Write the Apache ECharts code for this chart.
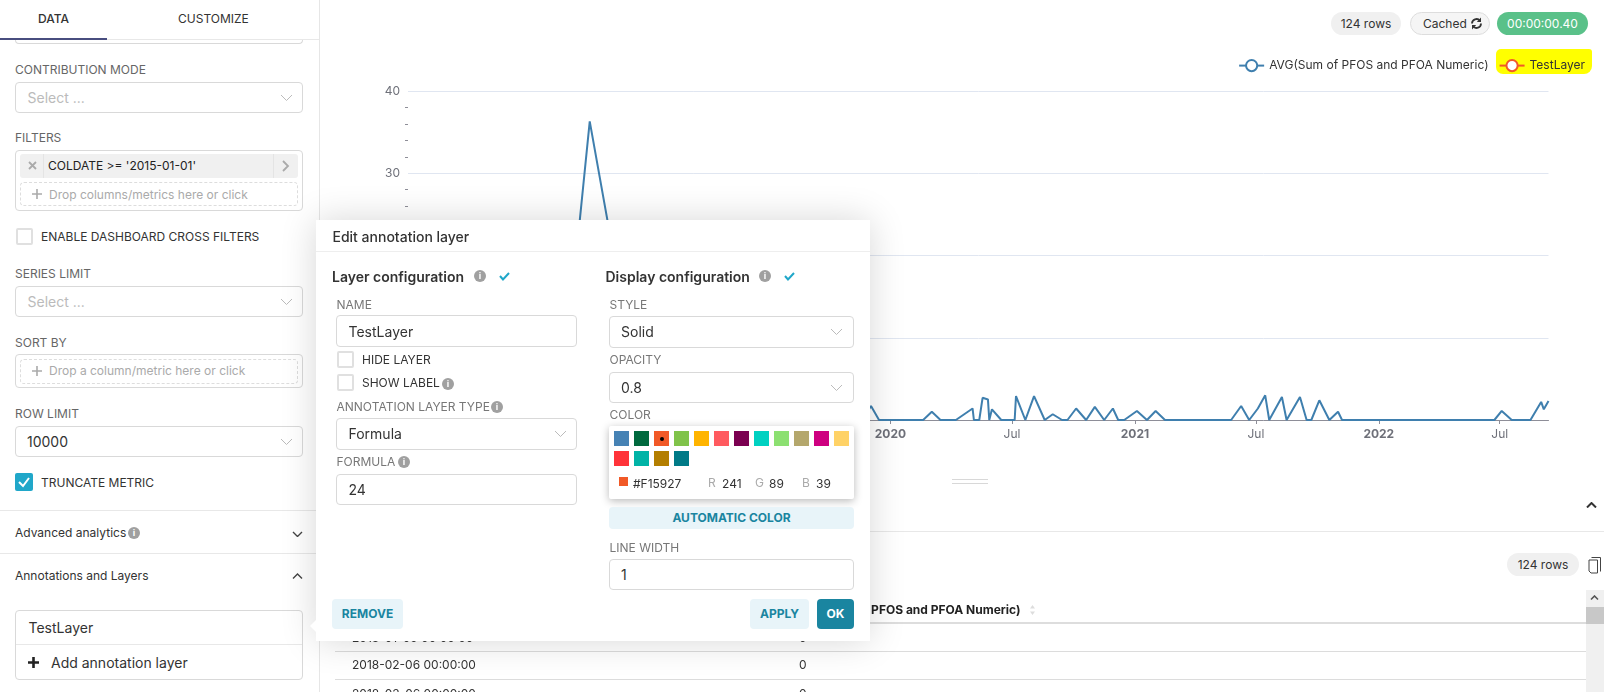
<!DOCTYPE html>
<html><head><meta charset="utf-8">
<script src="https://cdn.jsdelivr.net/npm/echarts@6/dist/echarts.min.js"></script>
<style>
html,body{margin:0;padding:0;width:1604px;height:692px;overflow:hidden;background:#fff;font-family:Inter,"Noto Sans",sans-serif;}
#hl{position:absolute;left:1496px;top:49px;width:96px;height:25px;background:#ffff00;border-radius:5px 3px 8px 7px;z-index:0;}
#chart{position:absolute;left:0;top:0;width:1604px;height:692px;z-index:1;}
#ui{position:absolute;left:0;top:0;width:1604px;height:692px;z-index:2;overflow:hidden;pointer-events:none;}
#ui div,#ui svg{position:absolute;box-sizing:border-box;}
.t{white-space:nowrap;line-height:16px;height:16px;font-size:12px;color:#333;}
.lab{color:#666;}
.ph{font-size:14px;color:#bbb;}
.val{font-size:14px;color:#333;}
.inp{background:#fff;border:1px solid #d9d9d9;border-radius:4px;}
.dash{border:1px dashed #ddd;border-radius:4px;}
.cb{background:#fff;border:2px solid #e0e0e0;border-radius:2px;}
.info{width:12px;height:12px;border-radius:50%;background:#a0a0a0;color:#fff;font-size:9px;font-weight:700;line-height:12px;text-align:center;}
.btn{border-radius:4px;text-align:center;font-size:12px;font-weight:700;background:#e8f4f9;color:#1a85a0;}
.pill{border-radius:12px;text-align:center;font-size:12px;color:#333;background:#f0f0f0;line-height:23px;}
</style></head><body>
<div id="hl"></div><div id="chart"></div><div id="ui"></div>
<script>
const seriesNames = ['AVG(Sum of PFOS and PFOA Numeric)', 'TestLayer'];
const pointDates = ['2018-01-09','2018-02-06','2018-03-06','2018-08-24','2018-10-08','2018-12-27','2019-11-20','2019-12-03','2019-12-15',
'2020-02-19','2020-03-03','2020-03-16','2020-04-08','2020-05-03','2020-05-05','2020-05-13','2020-05-18','2020-05-26','2020-05-28','2020-06-01','2020-06-15','2020-07-05','2020-07-07','2020-07-21','2020-08-03','2020-08-19','2020-08-31','2020-09-14','2020-09-22','2020-10-05','2020-10-20','2020-11-02','2020-11-16','2020-11-29','2020-12-07','2020-12-16',
'2021-01-04','2021-01-19','2021-02-01','2021-02-15','2021-05-25','2021-06-09','2021-06-21','2021-07-04','2021-07-15','2021-07-21','2021-08-09','2021-08-16','2021-09-05','2021-09-15','2021-09-22','2021-10-04','2021-10-19','2021-11-01','2021-11-07',
'2022-06-23','2022-07-04','2022-07-19','2022-08-16','2022-09-01','2022-09-05','2022-09-12'];
const pointValues = [0,0,0,0,36.3,0,0,1.7,0,
0,1,0,0,1.4,0,0,2.7,2.5,0,1.3,0,0,2.9,0,2.9,0,0.7,0,0,1.4,0,1.6,0,1.4,0,0,
1.1,0,1.1,0,0,1.7,0,1.4,3,0,2.8,0,2.8,0,0,2.4,0,1,0,
0,1.1,0,0,2.2,1.3,2.3];
const tickDates = ['2018-07-01','2019-01-01','2019-07-01','2020-01-01','2020-07-01','2021-01-01','2021-07-01','2022-01-01','2022-07-01'];
const tickLabels = ['Jul','2019','Jul','2020','Jul','2021','Jul','2022','Jul'];
const axisStart = '2018-01-09', axisEnd = '2022-09-12';
const swatches = ['#4682B4','#00693E','#F15927','#80C34A','#FFB400','#FF5A5F','#7B0051','#00D1C1','#8CE071','#B4A76C','#CE0080','#FFD266','#FF3339','#00B3A6','#B37E00','#007A87'];

const ts = d => Date.parse(d + 'T00:00:00Z');
const chart = echarts.init(document.getElementById('chart'), null, {renderer:'canvas'});
const tickTimes = tickDates.map(ts);
chart.setOption({
  animation:false,
  backgroundColor:'transparent',
  textStyle:{fontFamily:'Inter'},
  legend:{show:true,right:14,top:54,itemGap:10,itemWidth:25,itemHeight:14,textStyle:{fontFamily:'Inter',fontSize:12,color:'#333'},data:seriesNames},
  grid:{left:408,right:55.5,top:91,bottom:272},
  xAxis:{type:'value',min:ts(axisStart),max:ts(axisEnd),
    splitLine:{show:false},
    axisLine:{lineStyle:{color:'#8e8e98',width:1}},
    axisTick:{show:true,length:4,lineStyle:{color:'#8e8e98'},customValues:tickTimes},
    axisLabel:{margin:8,fontSize:12,color:'#6e7079',fontFamily:'Inter',customValues:tickTimes,
      formatter:v=>{const s=tickLabels[tickTimes.indexOf(+v)]||''; return s==='Jul'?s:'{b|'+s+'}';},
      rich:{b:{fontWeight:'bold',fontSize:12,color:'#6e7079',fontFamily:'Inter'}}}},
  yAxis:{type:'value',min:0,max:40,interval:10,
    axisLine:{show:false},axisTick:{show:false},
    minorTick:{show:true,splitNumber:5,length:3,lineStyle:{color:'#8e8e98'}},
    splitLine:{lineStyle:{color:'#e0e6f1'}},
    axisLabel:{margin:8,fontSize:12,color:'#6e7079',fontFamily:'Inter'}},
  series:[
    {name:seriesNames[0],type:'line',symbol:'emptyCircle',symbolSize:8,showSymbol:false,
     itemStyle:{color:'#3f7fae'},lineStyle:{width:2,color:'#3f7fae'},
     data:pointDates.map((d,i)=>[ts(d),pointValues[i]])},
    {name:seriesNames[1],type:'line',symbol:'emptyCircle',symbolSize:8,showSymbol:false,
     itemStyle:{color:'#F15927'},lineStyle:{width:1,color:'#F15927'},data:[]}
  ]
});

const ui = document.getElementById('ui');
function B(x,y,w,h,cls,css){const d=document.createElement('div');d.className=cls||'';d.style.cssText=`left:${x}px;top:${y}px;width:${w}px;height:${h}px;`+(css||'');ui.appendChild(d);return d;}
function T(x,cy,s,cls,css){const d=document.createElement('div');d.className='t '+(cls||'');d.textContent=s;d.style.cssText=`left:${x}px;top:${cy-8}px;`+(css||'');ui.appendChild(d);return d;}
function S(x,y,w,h,inner){const n='http://www.w3.org/2000/svg';const s=document.createElementNS(n,'svg');s.setAttribute('width',w);s.setAttribute('height',h);s.style.cssText=`left:${x}px;top:${y}px;`;s.innerHTML=inner;ui.appendChild(s);}
function Chev(cx,cy,w,up,col,sw){const h=w/2;const p=up?`1,${h+1} ${w/2+1},1 ${w+1},${h+1}`:`1,1 ${w/2+1},${h+1} ${w+1},1`;S(cx-w/2-1,cy-h/2-1,w+2,h+2,`<polyline points="${p}" fill="none" stroke="${col||'#bbb'}" stroke-width="${sw||1}"/>`);}
function I(cx,cy){const d=B(cx-6,cy-6,12,12,'info');d.textContent='i';}
function Select(y,txt,isPh,xl,w,tx,chevX){B(xl,y,w,31.5,'inp');T(tx,y+16,txt,isPh?'ph':'val');if(chevX)Chev(chevX,y+16,11);}
function Check(cx,cy){S(cx-5,cy-5,11,10,'<polyline points="1,5 4,8.5 10,2" fill="none" stroke="#20a7c9" stroke-width="2"/>');}

// top-right pills
const p1=B(1331,12,70,23,'pill');p1.textContent='124 rows';
const p2=B(1410,12,80,23,'pill','background:#f5f5f5;border:1px solid #ddd;line-height:21px;text-align:left;padding-left:12px;');p2.textContent='Cached';
S(1470,17,13,13,'<path d="M2 6.5a4.5 4.5 0 0 1 8-2.8M11 6.5a4.5 4.5 0 0 1-8 2.8" fill="none" stroke="#333" stroke-width="1.8"/><path d="M11 0.5v4.5h-4.2zM2 12.5V8h4.2z" fill="#333"/>');
const p3=B(1497,12,91,23,'pill','background:#5ac189;color:#fff;');p3.textContent='00:00:00.40';

// resize handle & collapse
B(952,479,36,1,'','background:#d8d8d8');B(952,483,36,1,'','background:#d8d8d8');
Chev(1591,505,9,true,'#333',2);
B(320,531,1284,1,'','background:#e8e8e8');
const p4=B(1507,553,72,23,'pill');p4.textContent='124 rows';
S(1588,556,14,18,'<path d="M3.5 1.5h9v14M1 4h8.5v13H3L1 15z" fill="#fff" stroke="#444" stroke-width="1"/>');

// table
T(352,610,'COLDATE','', 'font-weight:700');
T(797,610,seriesNames[0],'','font-weight:700;color:#222');
S(1029,604,7,12,'<path d="M3.5 1L6 4.5H1zM3.5 11L6 7.5H1z" fill="#ddd"/>');
B(335,622,1251,2,'','background:#ddd');
B(335,651,1251,1,'','background:#dcdcdc');
B(335,679,1251,1,'','background:#dcdcdc');
T(352,637.5,'2018-01-09 00:00:00');T(799,637.5,'0');
T(352,665,'2018-02-06 00:00:00');T(799,665,'0');
T(352,694,'2018-03-06 00:00:00');T(799,694,'0');
B(1586,590,18,102,'','background:#f0f0f0');
Chev(1594.5,598,7,true,'#555',1.6);
B(1586,607,18,17,'','background:#c8c8c8');

// left panel
B(0,0,319.5,692,'','background:#fff;border-right:1px solid #e6e6e6');
B(15,20,288,23.5,'inp','border-top:none;');
B(0,0,319,39,'','background:#fff');
T(38,18.5,'DATA','','font-weight:500;color:#333');
T(178,18.5,'CUSTOMIZE','','font-weight:400;color:#333');
B(0,39,319,1,'','background:#e8e8e8');B(0,38,107,2,'','background:#484d7f');
T(15,69.5,'CONTRIBUTION MODE','lab');
Select(81.5,'Select ...',true,15,288,27.5,286);
T(15,138,'FILTERS','lab');
B(15,149.5,288,61.5,'inp');
B(20,154,278,23.5,'','background:#f0f0f0;border-radius:3px');
B(43,154,1,23.5,'','background:#e4e4e4');B(273,154,1,23.5,'','background:#e4e4e4');
S(27.5,161,9,9,'<path d="M1 1L8 8M8 1L1 8" stroke="#aaa" stroke-width="1.8"/>');
T(48,166,"COLDATE >= '2015-01-01'",'','color:#222');
S(282,160,8,12,'<polyline points="1,1 6,6 1,11" fill="none" stroke="#aaa" stroke-width="1.8"/>');
B(20,182,278,24,'dash');
S(32,189,10,10,'<path d="M5 0V10M0 5H10" stroke="#aaa" stroke-width="1.6"/>');
T(49,195,'Drop columns/metrics here or click','','color:#aaa');
B(15.5,227.5,17,17,'cb');
T(41,237,'ENABLE DASHBOARD CROSS FILTERS');
T(15,274,'SERIES LIMIT','lab');
Select(285.5,'Select ...',true,15,288,27.5,286);
T(15,343,'SORT BY','lab');
B(15,354,288,33.5,'inp');
B(20,359,278,25,'dash');
S(32,366,10,10,'<path d="M5 0V10M0 5H10" stroke="#aaa" stroke-width="1.6"/>');
T(49,371,'Drop a column/metric here or click','','color:#aaa');
T(15,414,'ROW LIMIT','lab');
Select(425.5,'10000',false,15,288,27,286);
B(15,473,18,18,'','background:#20a7c9;border-radius:2px');
S(17,476,14,12,'<polyline points="2,6 6,10 12,2" fill="none" stroke="#fff" stroke-width="2"/>');
T(41,483,'TRUNCATE METRIC');
B(0,510,319,1,'','background:#e8e8e8');
T(15,533,'Advanced analytics');I(134,533);
Chev(297,534,9,false,'#444',1.4);
B(0,553,319,1,'','background:#e8e8e8');
T(15,576,'Annotations and Layers');
Chev(297,576,9,true,'#444',1.4);
B(15,609.5,288,70,'inp');
T(28.5,628,'TestLayer','val');
B(16,644,286,1,'','background:#e8e8e8');
S(28,657,11,11,'<path d="M5.5 0V11M0 5.5H11" stroke="#222" stroke-width="2.6"/>');
T(51,663,'Add annotation layer','val');

// modal
B(316,220,554,421,'','background:#fff;box-shadow:0 0 34px rgba(0,0,0,.16);');
S(309,619,8,14,'<path d="M8 0L1 7L8 14z" fill="#fff"/>');
T(332.5,237,'Edit annotation layer','','font-size:14px;font-weight:500;color:#333');
B(316,251,554,1,'','background:#eee');
T(332,277,'Layer configuration','','font-size:14px;font-weight:600;color:#333');I(480,276);Check(503.5,276);
T(336.5,304.5,'NAME','lab','color:#777');
B(336,315,241,31.5,'inp');T(348.5,332,'TestLayer','val');
B(336.5,351,17,17,'cb');T(362,360,'HIDE LAYER');
B(336.5,374,17,17,'cb');T(362,383,'SHOW LABEL');I(448,384);
T(336.5,407,'ANNOTATION LAYER TYPE','lab','color:#777');I(497,407);
Select(418,'Formula',false,336,241,348.5,560);
T(336.5,462,'FORMULA','lab','color:#777');I(404,462);
B(336,473.5,241,31,'inp');T(348.5,490,'24','val');
const rm=B(332,599,71,30,'btn','line-height:30px;');rm.textContent='REMOVE';

T(605.5,277,'Display configuration','','font-size:14px;font-weight:600;color:#333');I(765,276);Check(788.5,276);
T(609.5,305,'STYLE','lab','color:#777');
Select(316,'Solid',false,609,245,621,836);
T(609.5,359.5,'OPACITY','lab','color:#777');
Select(371.5,'0.8',false,609,245,621,836);
T(609.5,415,'COLOR','lab','color:#777');
B(609,426,245,73,'','background:#fff;border-radius:2px;box-shadow:0 2px 8px rgba(0,0,0,.28);');
swatches.forEach((c,i)=>{B(614+20*(i%12),431+20*Math.floor(i/12),15,15,'',`background:${c}`);});
B(659.5,436.5,4,4,'','background:#000;border-radius:50%');
B(619,477,9,9,'','background:#F15927');
T(633,484,'#F15927');
T(708,483,'R','','color:#aaa');T(722,484,'241');
T(755,483,'G','','color:#aaa');T(769,484,'89');
T(802,483,'B','','color:#aaa');T(816,484,'39');
const au=B(609,506.5,245,22,'btn','line-height:22px;');au.textContent='AUTOMATIC COLOR';
T(609.5,548,'LINE WIDTH','lab','color:#777');
B(609,559,245,31,'inp');T(621,575,'1','val');
const ap=B(750,599,59,30,'btn','line-height:30px;');ap.textContent='APPLY';
const ok=B(817,599,37,30,'btn','line-height:30px;background:#1a85a0;color:#fff;');ok.textContent='OK';
</script>
</body></html>
